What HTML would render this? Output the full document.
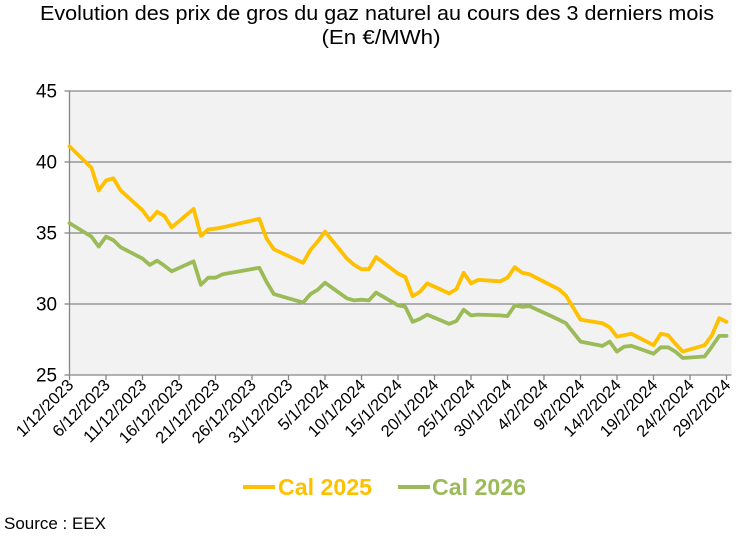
<!DOCTYPE html>
<html><head><meta charset="utf-8"><style>
body{margin:0;background:#fff;font-family:"Liberation Sans",Arial,sans-serif}
svg{display:block}
</style></head><body>
<svg width="754" height="537" viewBox="0 0 754 537">
<text x="377" y="20" text-anchor="middle" font-size="20" textLength="674" lengthAdjust="spacingAndGlyphs" fill="#000">Evolution des prix de gros du gaz naturel au cours des 3 derniers mois</text>
<text x="381" y="44" text-anchor="middle" font-size="20" textLength="119" lengthAdjust="spacingAndGlyphs" fill="#000">(En €/MWh)</text>
<rect x="69.5" y="91" width="662" height="284" fill="#f2f2f2"/>
<g id="grid"></g><g id="axes"></g><g id="series"></g>
<line x1="243" y1="487" x2="275" y2="487" stroke="#ffc000" stroke-width="4"/>
<text x="278" y="495" font-size="23" font-weight="bold" textLength="94" lengthAdjust="spacingAndGlyphs" fill="#ffc000">Cal 2025</text>
<line x1="398" y1="487" x2="430" y2="487" stroke="#9bbb59" stroke-width="4"/>
<text x="432" y="495" font-size="23" font-weight="bold" textLength="94" lengthAdjust="spacingAndGlyphs" fill="#9bbb59">Cal 2026</text>
<text x="4" y="529" font-size="17" textLength="102" lengthAdjust="spacingAndGlyphs" fill="#000">Source : EEX</text>
</svg>
<script>
const yTicks=[25,30,35,40,45];
const xTickLabels=["1/12/2023","6/12/2023","11/12/2023","16/12/2023","21/12/2023","26/12/2023","31/12/2023","5/1/2024","10/1/2024","15/1/2024","20/1/2024","25/1/2024","30/1/2024","4/2/2024","9/2/2024","14/2/2024","19/2/2024","24/2/2024","29/2/2024"];
const days=[0,3,4,5,6,7,10,11,12,13,14,17,18,19,20,21,26,27,28,32,33,34,35,38,39,40,41,42,45,46,47,48,49,52,53,54,55,56,59,60,61,62,63,66,67,68,70,73,74,75,76,77,80,81,82,83,84,87,88,89,90];
const cal2025=[41.1,39.6,38.0,38.7,38.85,38.0,36.6,35.9,36.5,36.2,35.4,36.7,34.8,35.25,35.3,35.4,36.0,34.6,33.85,32.9,33.8,34.4,35.1,33.2,32.75,32.45,32.45,33.3,32.15,31.9,30.55,30.85,31.45,30.75,31.05,32.2,31.45,31.7,31.6,31.85,32.6,32.2,32.1,31.3,31.05,30.6,28.9,28.65,28.35,27.7,27.8,27.9,27.1,27.9,27.8,27.2,26.65,27.1,27.8,29.0,28.75];
const cal2026=[35.7,34.75,34.05,34.75,34.5,34.0,33.2,32.75,33.05,32.7,32.3,33.0,31.35,31.85,31.85,32.1,32.55,31.55,30.7,30.1,30.7,31.0,31.5,30.4,30.25,30.3,30.25,30.8,29.9,29.8,28.75,28.95,29.25,28.6,28.8,29.6,29.2,29.25,29.2,29.15,29.9,29.8,29.85,29.15,28.9,28.65,27.35,27.05,27.35,26.65,27.0,27.05,26.5,26.95,26.95,26.65,26.2,26.3,27.0,27.75,27.75];
const NS="http://www.w3.org/2000/svg";
const X0=69.5,PX=7.3,Y0=375,PY=14.2;
function xs(d){return X0+PX*d;}
function ys(v){return Y0-(v-25)*PY;}
const grid=document.getElementById('grid'),axes=document.getElementById('axes'),series=document.getElementById('series');
function mk(tag,attrs,parent){const e=document.createElementNS(NS,tag);for(const k in attrs)e.setAttribute(k,attrs[k]);parent.appendChild(e);return e;}
yTicks.forEach(v=>{
 const l=mk('line',{x1:X0,x2:731.5,y1:ys(v),y2:ys(v),stroke:'#868686','stroke-width':1.3},grid);
 
 
 const t=mk('line',{x1:X0-5,x2:X0,y1:ys(v),y2:ys(v),stroke:'#868686','stroke-width':1.3},axes);
 
 
 const tx=mk('text',{x:57,y:ys(v)+6.5,'text-anchor':'end','font-size':19,textLength:21,lengthAdjust:'spacingAndGlyphs',fill:'#000'},axes);
 tx.textContent=v;
 
 
});
const ya=mk('line',{x1:X0,x2:X0,y1:91,y2:375,stroke:'#868686','stroke-width':1.3},axes);


xTickLabels.forEach((lab,i)=>{
 const x=xs(i*5);
 const t=mk('line',{x1:x,x2:x,y1:375,y2:380,stroke:'#868686','stroke-width':1.3},axes);
 
 
 const tx=mk('text',{x:x+5,y:386,'text-anchor':'end','font-size':16.5,fill:'#000',transform:`rotate(-45 ${x+5} 386)`},axes);
 tx.textContent=lab;
 
 
});
function drawLine(vals,color,name){
 const pts=days.map((d,i)=>xs(d).toFixed(1)+','+ys(vals[i]).toFixed(1)).join(' ');
 const p=mk('polyline',{points:pts,fill:'none',stroke:color,'stroke-width':3.8,'stroke-linejoin':'round','stroke-linecap':'round'},series);
 
 
}
drawLine(cal2026,'#9bbb59','line-cal-2026');
drawLine(cal2025,'#ffc000','line-cal-2025');
</script>
</body></html>
